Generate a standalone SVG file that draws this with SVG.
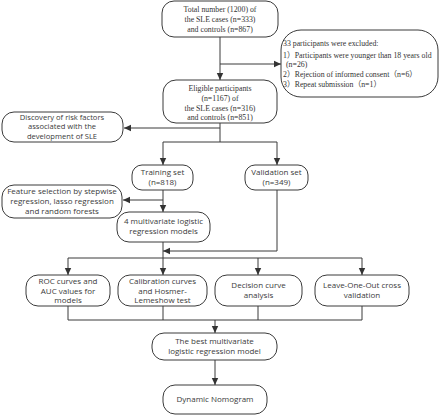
<svg xmlns="http://www.w3.org/2000/svg" width="440" height="416" viewBox="0 0 440 416">
<defs>
<marker id="ah" markerWidth="8" markerHeight="8" refX="7" refY="4" orient="auto" markerUnits="userSpaceOnUse">
<path d="M0,0.8 L7,4 L0,7.2 Z" fill="#333"/>
</marker>
<style>
.b{fill:#fff;stroke:#3a3a3a;stroke-width:1}
.s{font-family:"Liberation Serif","Noto Sans CJK SC",serif;font-size:7.8px;fill:#333}
.t{font-family:"Open Sans","Noto Sans",sans-serif;font-size:8px;fill:#3a3a3a;text-anchor:middle}
.c{fill:none;stroke:#3a3a3a;stroke-width:1}
.a{fill:none;stroke:#3a3a3a;stroke-width:1;marker-end:url(#ah)}
</style>
</defs>
<rect width="440" height="416" fill="#fff"/>
<g id="connectors">
<path class="a" d="M220,37 V80"/>
<path class="a" d="M220,64 H281"/>
<path class="a" d="M220,123 V128 H124"/>
<path class="c" d="M220,128 V142 M163,142 H277"/>
<path class="a" d="M163,142 V165"/>
<path class="a" d="M277,142 V165"/>
<path class="a" d="M163,190 V212"/>
<path class="a" d="M163,200 H123"/>
<path class="a" d="M277,190 V251 H163"/>
<path class="c" d="M163,242 V258 M68,258 H362"/>
<path class="a" d="M68,258 V275"/>
<path class="a" d="M163,258 V275"/>
<path class="a" d="M258,258 V275"/>
<path class="a" d="M362,258 V275"/>
<path class="c" d="M68,306 V320 H362 V306 M163,306 V320 M258,306 V320"/>
<path class="a" d="M215,320 V333"/>
<path class="a" d="M215,360 V385"/>
</g>
<g id="total">
<rect class="b" x="162" y="1" width="116" height="36" rx="12"/>
<text class="s" text-anchor="middle"><tspan x="220" y="12">Total number (1200) of</tspan><tspan x="220" y="22">the SLE cases (n=333)</tspan><tspan x="220" y="32">and controls (n=867)</tspan></text>
</g>
<g id="excluded">
<rect class="b" x="281" y="30" width="157" height="67" rx="20"/>
<text class="s"><tspan x="283" y="46">33 participants were excluded:</tspan><tspan x="283" y="58">1）Participants were younger than 18 years old</tspan><tspan x="286" y="67">(n=26)</tspan><tspan x="283" y="77">2）Rejection of informed consent（n=6）</tspan><tspan x="283" y="87">3）Repeat submission（n=1）</tspan></text>
</g>
<g id="eligible">
<rect class="b" x="163" y="80" width="114" height="43" rx="13"/>
<text class="s" text-anchor="middle"><tspan x="220" y="91">Eligible participants</tspan><tspan x="220" y="101">(n=1167) of</tspan><tspan x="220" y="110.5">the SLE cases (n=316)</tspan><tspan x="220" y="120">and controls (n=851)</tspan></text>
</g>
<g id="discovery">
<rect class="b" x="2" y="112" width="121" height="30" rx="12"/>
<text class="t" style="font-size:7.6px"><tspan x="62" y="119.5">Discovery of risk factors</tspan><tspan x="62" y="129">associated with the</tspan><tspan x="62" y="138.5">development of SLE</tspan></text>
</g>
<g id="training">
<rect class="b" x="132" y="165" width="61" height="25" rx="10"/>
<text class="t"><tspan x="162.5" y="175">Training set</tspan><tspan x="162.5" y="185">(n=818)</tspan></text>
</g>
<g id="validation">
<rect class="b" x="245" y="165" width="63" height="25" rx="10"/>
<text class="t"><tspan x="276.5" y="175">Validation set</tspan><tspan x="276.5" y="185">(n=349)</tspan></text>
</g>
<g id="feature">
<rect class="b" x="2" y="185" width="120" height="33" rx="12"/>
<text class="t"><tspan x="62" y="194">Feature selection by stepwise</tspan><tspan x="62" y="204">regression, lasso regression</tspan><tspan x="62" y="214">and random forests</tspan></text>
</g>
<g id="models">
<rect class="b" x="117" y="212" width="93" height="30" rx="12"/>
<text class="t"><tspan x="163.5" y="224">4 multivariate logistic</tspan><tspan x="163.5" y="234">regression models</tspan></text>
</g>
<g id="roc">
<rect class="b" x="26" y="275" width="84" height="31" rx="12"/>
<text class="t"><tspan x="68" y="284">ROC curves and</tspan><tspan x="68" y="293.5">AUC values for</tspan><tspan x="68" y="303">models</tspan></text>
</g>
<g id="calibration">
<rect class="b" x="118" y="275" width="89" height="31" rx="12"/>
<text class="t"><tspan x="162.5" y="284">Calibration curves</tspan><tspan x="162.5" y="293.5">and Hosmer-</tspan><tspan x="162.5" y="303">Lemeshow test</tspan></text>
</g>
<g id="decision">
<rect class="b" x="215" y="275" width="87" height="31" rx="12"/>
<text class="t"><tspan x="258.5" y="288">Decision curve</tspan><tspan x="258.5" y="298">analysis</tspan></text>
</g>
<g id="loo">
<rect class="b" x="315" y="275" width="94" height="31" rx="12"/>
<text class="t"><tspan x="362" y="288">Leave-One-Out cross</tspan><tspan x="362" y="298">validation</tspan></text>
</g>
<g id="best">
<rect class="b" x="152" y="333" width="125" height="27" rx="12"/>
<text class="t"><tspan x="214.5" y="344">The best multivariate</tspan><tspan x="214.5" y="354">logistic regression model</tspan></text>
</g>
<g id="nomogram">
<rect class="b" x="163" y="385" width="104" height="29" rx="12"/>
<text class="t"><tspan x="215" y="402">Dynamic Nomogram</tspan></text>
</g>
</svg>
